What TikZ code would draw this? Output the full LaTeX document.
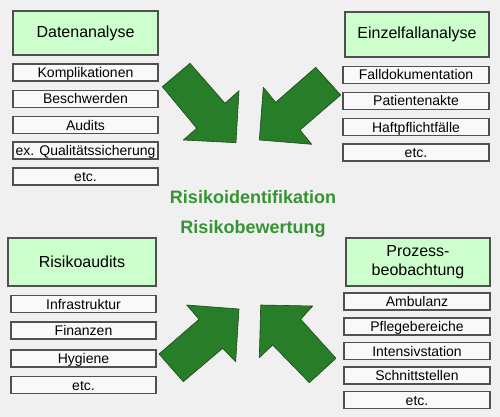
\documentclass[tikz,border=0pt]{standalone}
\usepackage{fontspec}
\setmainfont{Liberation Sans}
\usepackage{tikz}
\usetikzlibrary{positioning}
\definecolor{bgcol}{RGB}{239,240,239}
\definecolor{headcol}{RGB}{204,255,204}
\definecolor{boxline}{RGB}{80,80,80}
\definecolor{arrcol}{RGB}{40,125,40}
\definecolor{arrline}{RGB}{30,70,30}
\definecolor{txtcol}{RGB}{52,148,52}

\begin{document}
\begin{tikzpicture}[x=1pt,y=-1pt,
head/.style={draw=boxline,line width=1.2pt,fill=headcol,minimum width=144pt,minimum height=45pt,inner sep=0pt,align=center,font=\fontsize{16}{19}\selectfont},
item/.style={draw=boxline,line width=1.2pt,fill=white!60!bgcol,minimum width=145pt,minimum height=17pt,inner sep=0pt,text height=12pt,text depth=2pt,font=\fontsize{14}{16}\selectfont},
arr/.style={draw=arrline,line width=0.6pt,fill=arrcol,line join=round},
title/.style={text=txtcol,font=\fontsize{18}{21}\selectfont\bfseries}]
\fill[bgcol] (0,0) rectangle (500,417);
\useasboundingbox (0,0) rectangle (500,417);
% Datenanalyse
\node[head,minimum width=145pt,minimum height=44pt] (DA) at (85.5,33) {Datenanalyse};
\node[item] (DA1) at (85.5,72.5) {Komplikationen};
\node[item] (DA2) at (85.5,99) {Beschwerden};
\node[item] (DA3) at (85.5,125) {Audits};
\node[item] (DA4) at (85.5,150.5) {ex. Qualitätssicherung};
\node[item] (DA5) at (85.5,176.5) {etc.};
% Einzelfallanalyse
\node[head] (EA) at (417,34.5) {Einzelfallanalyse};
\node[item,minimum width=146pt] (EA1) at (416,75) {Falldokumentation};
\node[item,minimum width=146pt] (EA2) at (416,101) {Patientenakte};
\node[item,minimum width=146pt] (EA3) at (416,127) {Haftpflichtfälle};
\node[item,minimum width=146pt] (EA4) at (416,152.5) {etc.};
% Risikoaudits
\node[head,minimum width=148pt,minimum height=48pt] (RA) at (82,262) {Risikoaudits};
\node[item] (RA1) at (83.5,304) {Infrastruktur};
\node[item] (RA2) at (83.5,330.5) {Finanzen};
\node[item] (RA3) at (83.5,358.5) {Hygiene};
\node[item] (RA4) at (83.5,385) {etc.};
% Prozessbeobachtung
\node[head,minimum height=48pt] (PB) at (418,262) {Prozess-\\beobachtung};
\node[item,minimum width=146pt] (PB1) at (417,301.5) {Ambulanz};
\node[item,minimum width=146pt] (PB2) at (417,326.5) {Pflegebereiche};
\node[item,minimum width=146pt] (PB3) at (417,351) {Intensivstation};
\node[item,minimum width=146pt] (PB4) at (417,375.5) {Schnittstellen};
\node[item,minimum width=146pt] (PB5) at (417,400) {etc.};
% centre
\node[title] (RI) at (253,197) {Risikoidentifikation};
\node[title] (RB) at (253,229) {Risikobewertung};
% arrows
\draw[arr] (190,63.3) -- (225,103.3) -- (239,90.7) -- (236,142.7) -- (183.3,140) -- (196.7,128.3) -- (162.3,86.7) -- cycle;
\draw[arr] (315.7,67.3) -- (340.7,95) -- (300,130) -- (311.7,144.3) -- (259.3,140) -- (263.3,87.3) -- (275.7,102.3) -- cycle;
\draw[arr] (186.7,305) -- (239,309) -- (235.7,361.7) -- (222.7,348.3) -- (183.3,381.7) -- (159,354) -- (199,319.3) -- cycle;
\draw[arr] (260.7,305) -- (312.7,306) -- (300.7,319.3) -- (336,358.3) -- (309.3,382.7) -- (272.7,345) -- (259.3,357.7) -- cycle;
\end{tikzpicture}
\end{document}
